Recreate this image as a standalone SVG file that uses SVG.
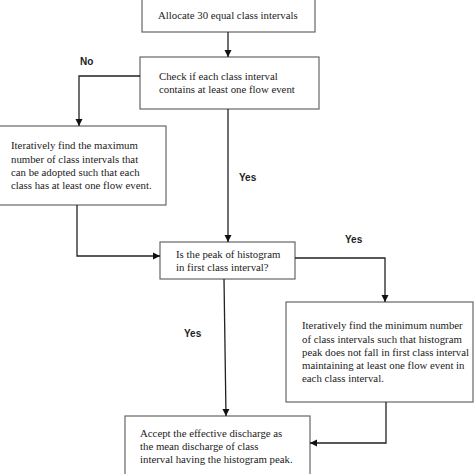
<svg xmlns="http://www.w3.org/2000/svg" width="474" height="474" viewBox="0 0 474 474">
<defs>
<marker id="ah" markerWidth="8" markerHeight="8" refX="7" refY="4" orient="auto" markerUnits="userSpaceOnUse">
<path d="M0,0.5 L7,4 L0,7.5 Z" fill="#111"/>
</marker>
<style>
.box{fill:#fff;stroke:#666;stroke-width:1.2}
.t{font-family:"Liberation Serif","Times New Roman",serif;font-size:10.8px;fill:#222}
.lbl{font-family:"Liberation Sans",Arial,sans-serif;font-size:10px;font-weight:bold;fill:#222}
.c{fill:none;stroke:#222;stroke-width:1.3;marker-end:url(#ah)}
</style>
</defs>
<rect width="474" height="474" fill="#fff"/>
<g id="n1">
<rect class="box" x="142" y="-5" width="173" height="37"/>
<text class="t" x="158" y="19">Allocate 30 equal class intervals</text>
</g>
<g id="n2">
<rect class="box" x="140" y="57" width="179" height="52"/>
<text class="t" x="159" y="80">Check if each class interval</text>
<text class="t" x="159" y="93">contains at least one flow event</text>
</g>
<g id="n3">
<rect class="box" x="-2" y="126" width="168" height="79"/>
<text class="t" x="11" y="149">Iteratively find the maximum</text>
<text class="t" x="11" y="163">number of class intervals that</text>
<text class="t" x="11" y="176">can be adopted such that each</text>
<text class="t" x="11" y="189">class has at least one flow event.</text>
</g>
<g id="n4">
<rect class="box" x="160" y="242" width="135" height="37"/>
<text class="t" x="176" y="258">Is the peak of histogram</text>
<text class="t" x="176" y="271">in first class interval?</text>
</g>
<g id="n5">
<rect class="box" x="286" y="302" width="187" height="100"/>
<text class="t" x="302" y="329">Iteratively find the minimum number</text>
<text class="t" x="302" y="343">of class intervals such that histogram</text>
<text class="t" x="302" y="356">peak does not fall in first class interval</text>
<text class="t" x="302" y="369">maintaining at least one flow event in</text>
<text class="t" x="302" y="382">each class interval.</text>
</g>
<g id="n6">
<rect class="box" x="125" y="416" width="185" height="64"/>
<text class="t" x="140" y="437">Accept the effective discharge as</text>
<text class="t" x="140" y="450">the mean discharge of class</text>
<text class="t" x="140" y="463">interval having the histogram peak.</text>
</g>
<g id="connectors">
<path class="c" d="M228,32 V57"/>
<path class="c" d="M140,76 H79 V126"/>
<path class="c" d="M228,109 V242"/>
<path class="c" d="M77,205 V256 H160"/>
<path class="c" d="M295,258 H385 V302"/>
<path class="c" d="M224,279 L226,416"/>
<path class="c" d="M386,402 V443 H310"/>
<text class="lbl" x="80" y="65">No</text>
<text class="lbl" x="239" y="181">Yes</text>
<text class="lbl" x="345" y="243">Yes</text>
<text class="lbl" x="184" y="337">Yes</text>
</g>
</svg>
